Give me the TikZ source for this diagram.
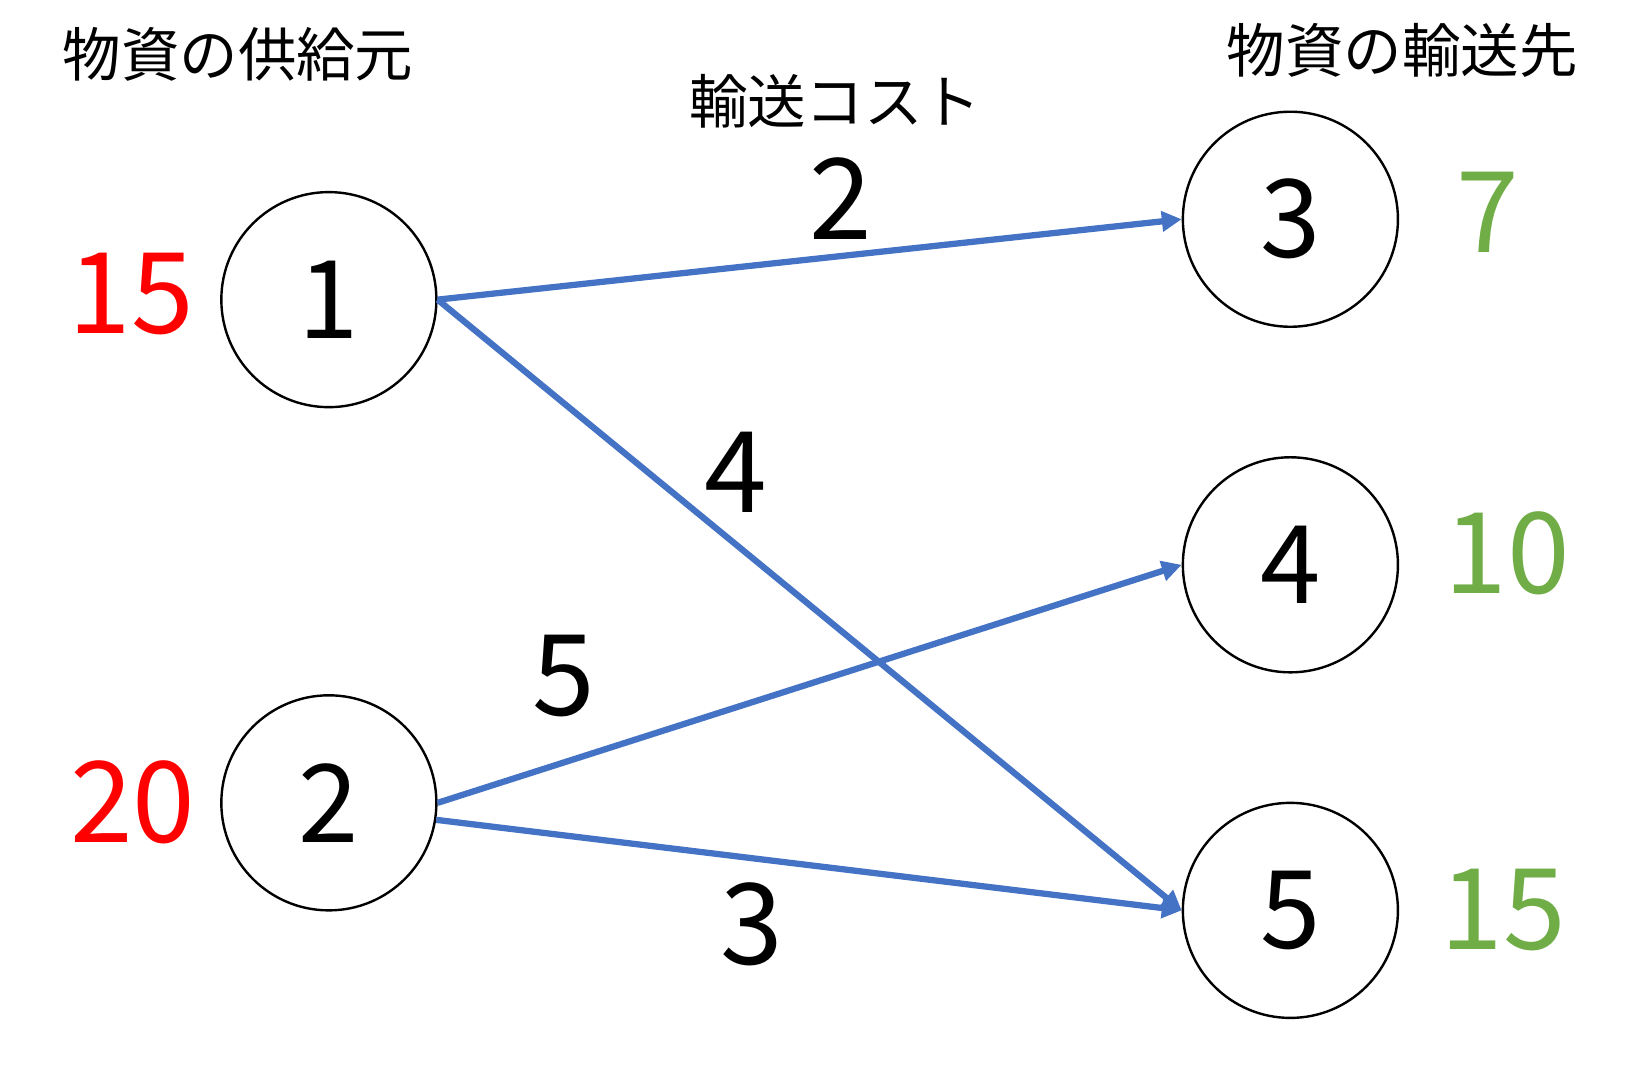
\documentclass[tikz,border=0pt]{standalone}
\usepackage{fontspec}
\setmainfont{Noto Sans CJK JP}
\usetikzlibrary{arrows.meta}
\definecolor{myblue}{HTML}{4472C4}
\definecolor{mygreen}{HTML}{70AD47}
\definecolor{myred}{HTML}{FF0000}
\begin{document}
\begin{tikzpicture}[x=1pt,y=-1pt,
  vert/.style={circle,draw=black,line width=2.3pt,minimum size=206pt,inner sep=0pt,font=\fontsize{104}{104}\selectfont},
  edge/.style={draw=myblue,line width=6pt,-{Triangle[length=19pt,width=19pt]}},
  big/.style={font=\fontsize{108}{108}\selectfont,inner sep=0pt},
  jp/.style={font=\fontsize{56}{56}\selectfont,inner sep=0pt}]
\useasboundingbox (0,0) rectangle (1568,1022);
\node[vert] (n1) at (315,287) {1};
\node[vert] (n2) at (315,769) {2};
\node[vert] (n3) at (1236,210) {3};
\node[vert] (n4) at (1236,541) {4};
\node[vert] (n5) at (1236,872) {5};
\node[jp] (t1) at (228,52) {物資の供給元};
\node[jp] (t2) at (800,97) {輸送コスト};
\node[jp] (t3) at (1343,48) {物資の輸送先};
\node[big,text=myred] (s1) at (126,282) {15};
\node[big,text=myred] (s2) at (127,768) {20};
\node[big,text=mygreen] (d3) at (1425,203) {7};
\node[big,text=mygreen] (d4) at (1444,530) {10};
\node[big,text=mygreen] (d5) at (1440,872) {15};
\node[big] (c13) at (805,190) {2};
\node[big] (c15) at (705,452) {4};
\node[big] (c24) at (540,648) {5};
\node[big] (c25) at (720,885) {3};
\draw[edge] (n1.east) -- (n3.west);
\draw[edge] (n1.east) -- (n5.west);
\draw[edge] (n2.east) -- (n4.west);
\draw[edge] (n2.-9) -- (n5.west);
\end{tikzpicture}
\end{document}
